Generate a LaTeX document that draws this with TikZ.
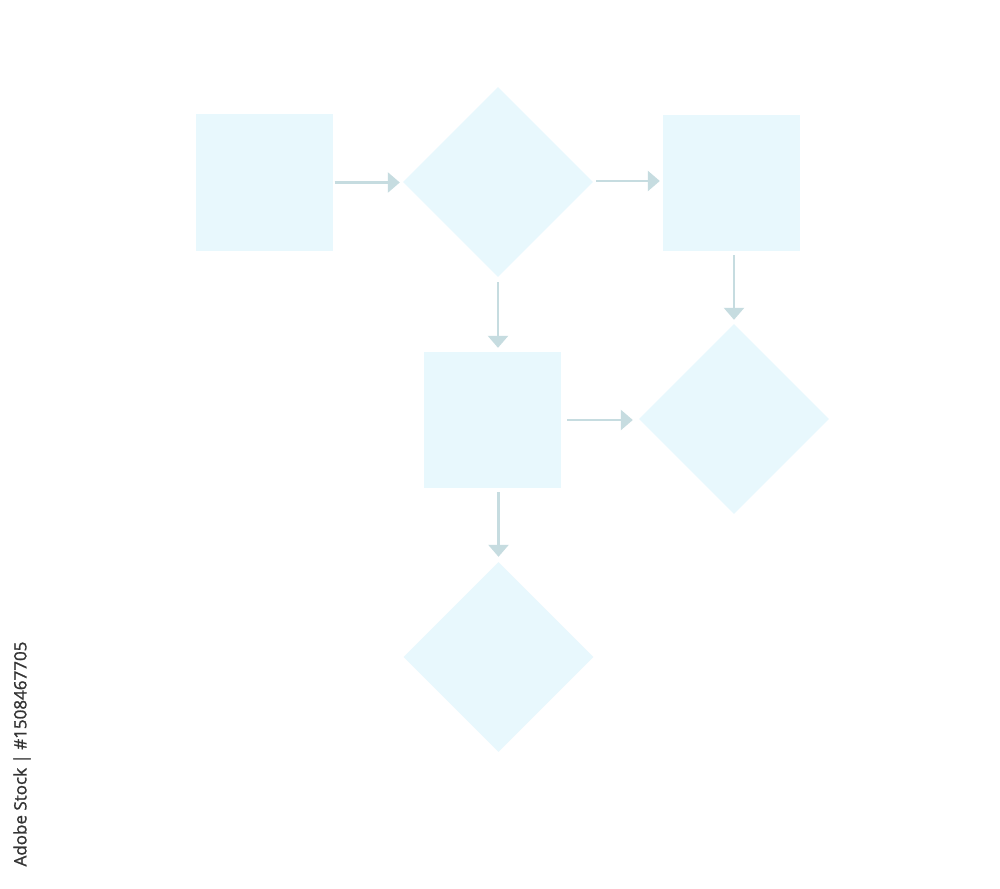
\documentclass[tikz,border=0pt]{standalone}
\usepackage{fontspec}
\newfontfamily\wmfont[FakeBold=1.2]{Open Sans}
\usetikzlibrary{shapes.geometric,arrows.meta}
\definecolor{shapefill}{HTML}{E8F8FD}
\definecolor{arrowcol}{HTML}{C6DCE0}
\definecolor{wmtext}{HTML}{333333}
\tikzset{
  boxshape/.style={rectangle,fill=shapefill,draw=none,minimum width=137pt,minimum height=136pt,inner sep=0pt},
  diashape/.style={diamond,fill=shapefill,draw=none,minimum width=190pt,minimum height=190pt,inner sep=0pt},
  flowarrow/.style={draw=arrowcol,line width=2.5pt,-{Triangle[width=20pt,length=12pt]}},
}
\begin{document}
\begin{tikzpicture}[x=1pt,y=-1pt]
\useasboundingbox[fill=white] (0,0) rectangle (1000,888);
\node[boxshape] (b1) at (264,182.5) {};
\node[diashape] (d1) at (498,182) {};
\node[boxshape] (b2) at (731.5,183) {};
\node[boxshape] (b3) at (492.5,420) {};
\node[diashape] (d2) at (734,419) {};
\node[diashape] (d3) at (498.5,657) {};
\draw[flowarrow,shorten <=2pt,shorten >=3pt] (b1.east) -- (b1.east -| d1.west);
\draw[flowarrow,shorten <=3pt,shorten >=3pt] (d1.east |- 0,181) -- (b2.west |- 0,181);
\draw[flowarrow,shorten <=5pt,shorten >=4pt] (d1.south) -- (d1.south |- b3.north);
\draw[flowarrow,shorten <=4pt,shorten >=4pt] (b2.south -| d2.north) -- (d2.north);
\draw[flowarrow,shorten <=6pt,shorten >=6pt] (b3.east |- 0,420) -- (d2.west |- 0,420);
\draw[flowarrow,shorten <=4pt,shorten >=5pt] (d3.north |- b3.south) -- (d3.north);
\node[rotate=90,text=wmtext,font=\wmfont\fontsize{17}{20}\selectfont,inner sep=0pt] (wm) at (22,754) {Adobe Stock | \#1508467705};
\end{tikzpicture}
\end{document}
